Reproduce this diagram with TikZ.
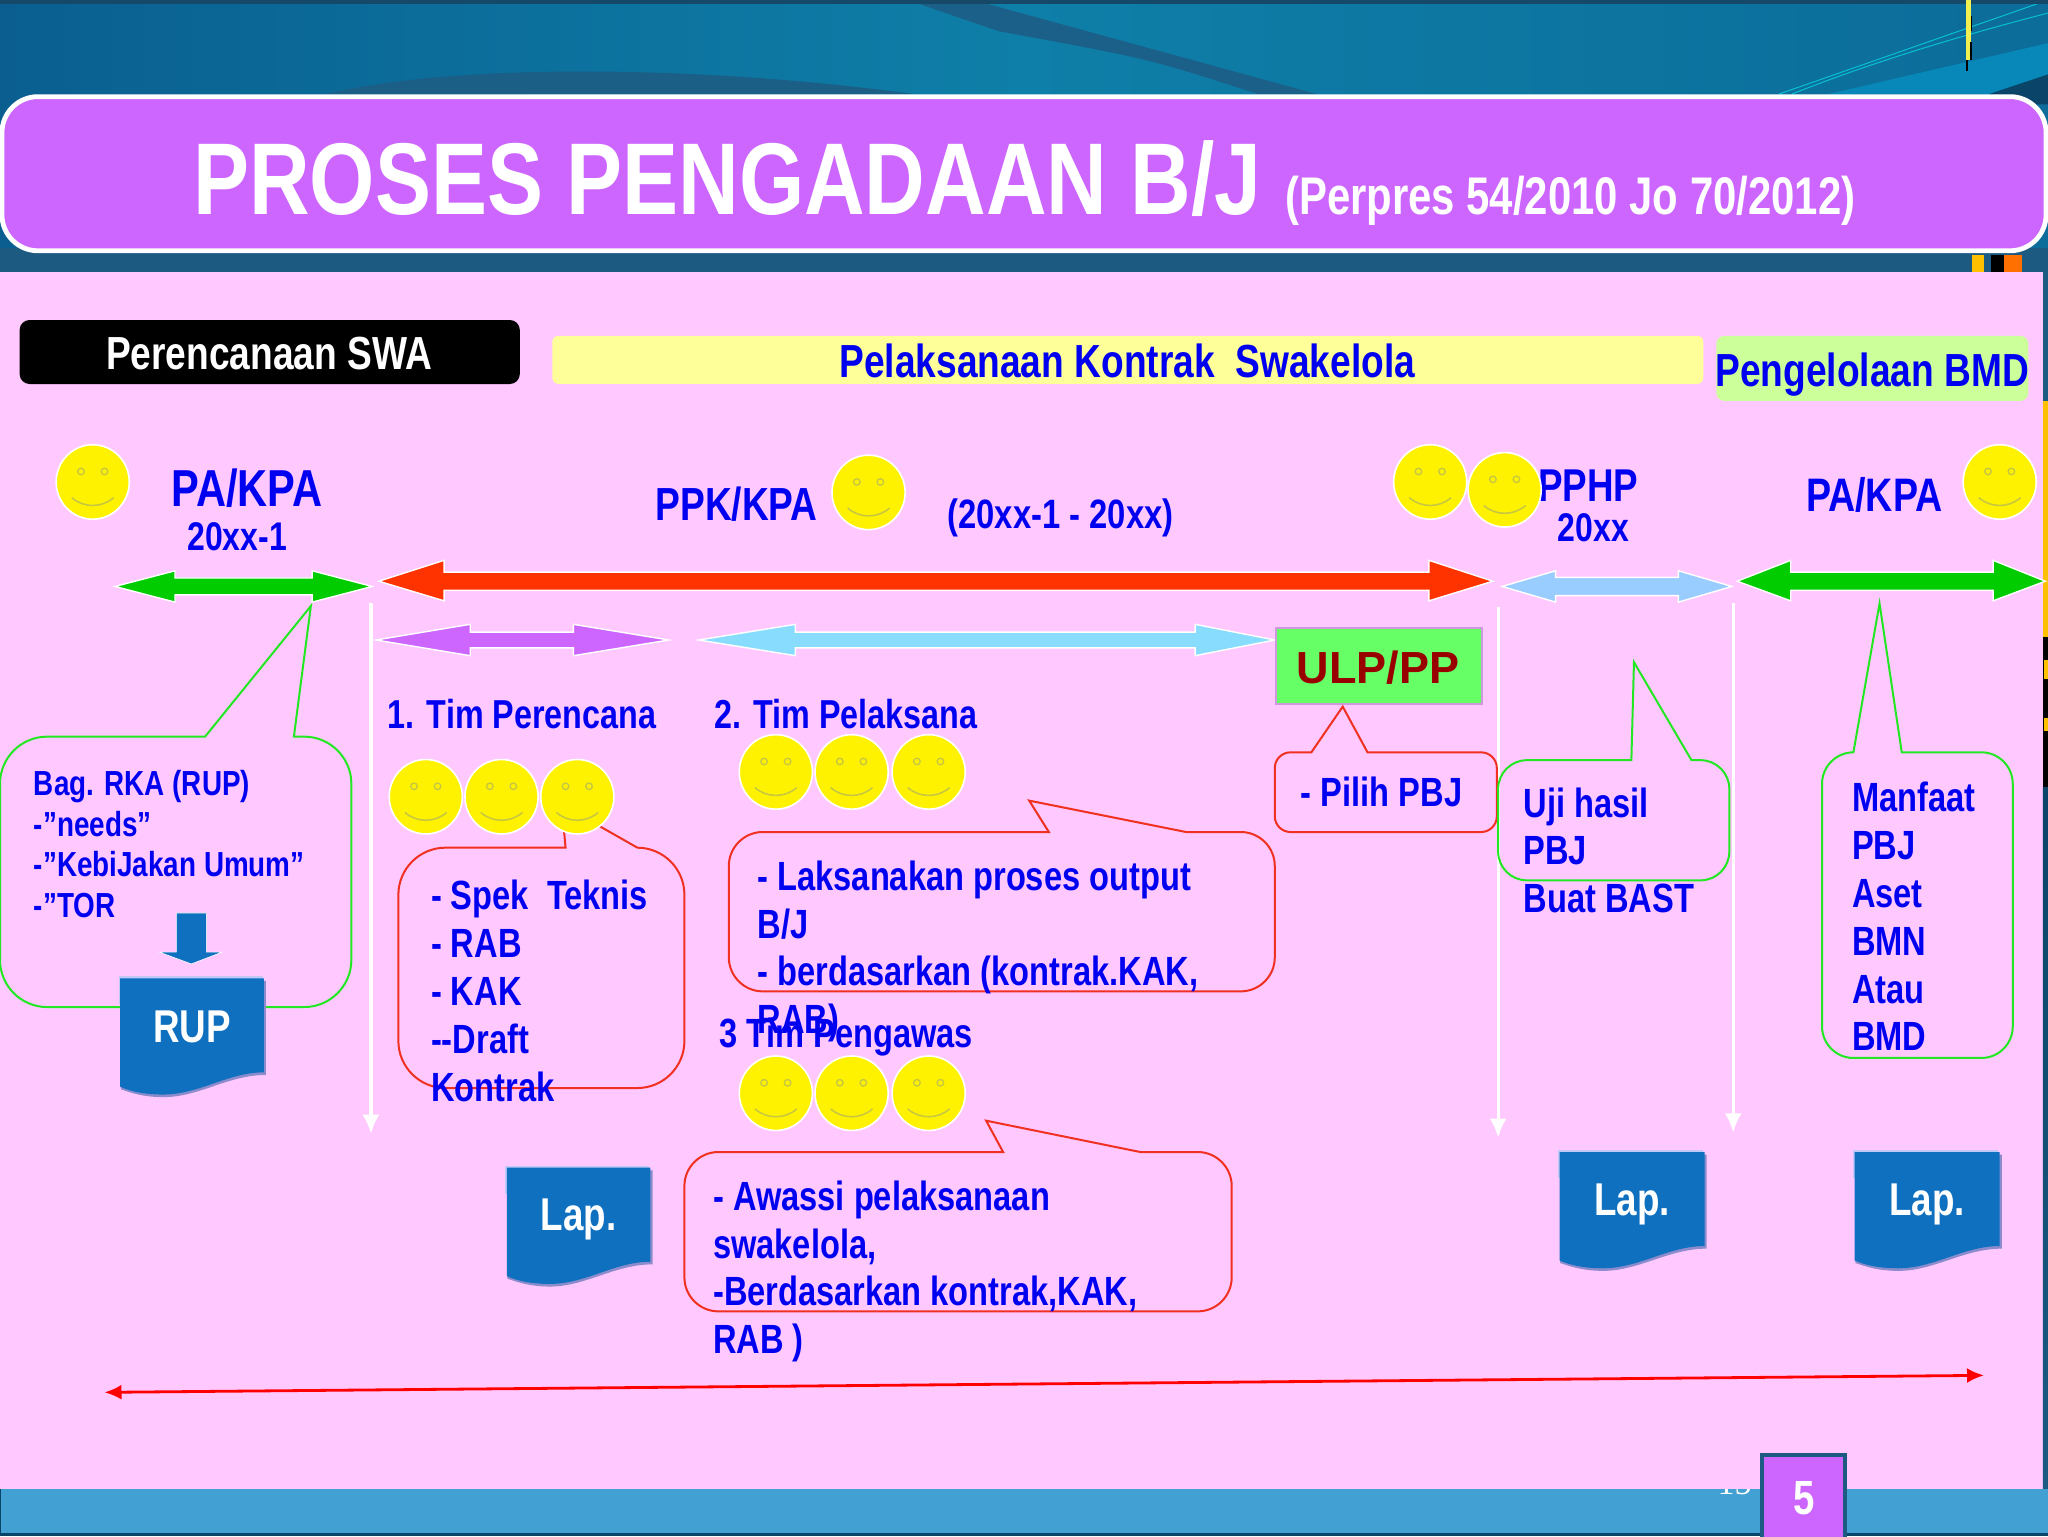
\documentclass[tikz,border=0pt]{standalone}
\usepackage{fontspec}
\setmainfont[FakeStretch=0.8]{Liberation Sans}
\newfontfamily\titlef[FakeStretch=0.823]{Liberation Sans}
\newfontfamily\subf[FakeStretch=0.79]{Liberation Sans}
\newfontfamily\plainf{Liberation Sans}
\newfontfamily\serf{Liberation Serif}
\usetikzlibrary{arrows.meta}
\definecolor{bluetxt}{HTML}{0000F0}
\definecolor{purp}{HTML}{CC66FF}
\definecolor{pinkbg}{HTML}{FFC8FF}
\definecolor{docblue}{HTML}{1070C0}
\definecolor{docshadow}{HTML}{8C8CCC}
\definecolor{dochalo}{HTML}{C0C8F8}
\definecolor{orr}{HTML}{FF3300}
\definecolor{grn}{HTML}{00CC00}
\definecolor{lineG}{HTML}{22E822}
\definecolor{lineR}{HTML}{F03020}
\definecolor{lblue}{HTML}{99CCFF}
\definecolor{cyanb}{HTML}{88DDFF}
\definecolor{smfeat}{HTML}{C8C840}
\definecolor{tealA}{HTML}{0A5F90}
\definecolor{tealB}{HTML}{0E7FA8}
\definecolor{tealC}{HTML}{0888B8}
\definecolor{bandd}{HTML}{1C5A82}
\definecolor{banddk}{HTML}{0A4468}
\definecolor{botband}{HTML}{42A0D2}
\definecolor{hdryel}{HTML}{FFFF99}
\definecolor{hdrgrn}{HTML}{CCFF99}
\definecolor{ulpgrn}{HTML}{66FF66}
\definecolor{ulpedge}{HTML}{CC99DD}
\definecolor{ulptxt}{HTML}{990000}
\definecolor{amber}{HTML}{FFC000}
\definecolor{orng}{HTML}{FF7000}
\definecolor{lemon}{HTML}{F0F050}
\newcommand\fs[2]{\fontsize{#1}{#2}\selectfont\bfseries}
\newcommand\dblarrow[9]{%
 \path[draw=white,line width=.7pt,fill=#9] (#1,#3) -- (#4,{#3-#7}) -- (#4,{#3-#6}) -- (#5,{#3-#6}) -- (#5,{#3-#7}) -- (#2,#3) -- (#5,{#3+#8}) -- (#5,{#3+#6}) -- (#4,{#3+#6}) -- (#4,{#3+#8}) -- cycle;}
\newcommand\callout[9]{\def\cA{#1}\def\cB{#2}\def\cC{#3}\def\cD{#4}\def\cR{#5}\def\cE{#6}\def\cF{#7}\def\cG{#8}\def\cH{#9}\calloutB}
\newcommand\calloutB[1]{%
 \draw[#1,line width=1pt] ({\cA+\cR},\cB) -- (\cE,\cB) -- (\cG,\cH) -- (\cF,\cB) -- ({\cC-\cR},\cB)
  .. controls ({\cC-.45*\cR},\cB) and (\cC,{\cB+.45*\cR}) .. (\cC,{\cB+\cR}) -- (\cC,{\cD-\cR})
  .. controls (\cC,{\cD-.45*\cR}) and ({\cC-.45*\cR},\cD) .. ({\cC-\cR},\cD) -- ({\cA+\cR},\cD)
  .. controls ({\cA+.45*\cR},\cD) and (\cA,{\cD-.45*\cR}) .. (\cA,{\cD-\cR}) -- (\cA,{\cB+\cR})
  .. controls (\cA,{\cB+.45*\cR}) and ({\cA+.45*\cR},\cB) .. ({\cA+\cR},\cB) -- cycle;}
\newcommand\docnode[6]{%
 \fill[dochalo] ({#1-1},{#2-1.5}) rectangle ({#1+#3-1},{#2+20});
 \fill[docshadow] ({#1+1.5},{#2+2}) -- ({#1+#3+1.6},{#2+2}) -- ({#1+#3+1.6},{#2+74}) .. controls ({#1+.75*#3},{#2+74}) and ({#1+.55*#3},{#2+91}) .. ({#1+.3*#3},{#2+91}) .. controls ({#1+.15*#3},{#2+91}) and ({#1+.06*#3},{#2+87}) .. ({#1+.5},{#2+85}) -- cycle;
 \fill[docblue] (#1,#2) -- ({#1+#3},#2) -- ({#1+#3},{#2+72}) .. controls ({#1+.75*#3},{#2+72}) and ({#1+.55*#3},{#2+89}) .. ({#1+.3*#3},{#2+89}) .. controls ({#1+.15*#3},{#2+89}) and ({#1+.06*#3},{#2+86}) .. (#1,{#2+83}) -- cycle;
 \node[doctext] (#4) at ({#1+.5*#3},{#2+#6}) {#5};}
\tikzset{
 x=0.65306pt,y=-0.65306pt,
 every node/.style={inner sep=0pt,outer sep=0pt},
 blue text/.style={text=bluetxt,align=left},
 doctext/.style={text=white,font=\fs{23}{26}},
 whitearrow/.style={draw=white,line width=1.6pt,-{Latex[length=9.5pt,width=8.5pt]}},
 redarrow/.style={draw=red,line width=1.4pt,{Latex[length=8.5pt,width=7.5pt]}-{Latex[length=8.5pt,width=7.5pt]}},
 smiley/.pic={
  \path[fill=yellow,draw=white,line width=.8pt] (0,0) ellipse [x radius=28,y radius=28.5];
  \path[fill=yellow,draw=smfeat,line width=.7pt] (-9,-8) circle [radius=2.5] (9,-8) circle [radius=2.5];
  \draw[smfeat,line width=.8pt] (-16,12) .. controls (-7,20) and (7,20) .. (16,12);
 }
}
\begin{document}
\begin{tikzpicture}
\useasboundingbox (0,0) rectangle (1568,1176);
\clip (0,0) rectangle (1568,1176);
% backdrop
\shade[left color=tealA,right color=tealB] (0,0) rectangle (784,208);
\shade[left color=tealB,right color=tealA!60!tealB] (784,0) rectangle (1568,208);
\fill[tealC] (1400,72) -- (1568,33) -- (1568,57) -- (1523,72) -- cycle;
\fill[banddk] (1523,72) -- (1568,57) -- (1568,80) -- (1523,80) -- cycle;
\fill[bandd!90!tealB] (250,72) .. controls (340,50) and (520,48) .. (700,72) -- cycle;
\fill[bandd!85!tealB] (745,0) -- (1008,72) -- (963,72) .. controls (880,45) .. (765,24) -- (695,0) -- cycle;
\draw[tealB!50!cyan,line width=.5pt] (1362,72) -- (1568,0);
\draw[tealB!50!cyan,line width=.5pt] (1372,72) .. controls (1440,45) and (1510,25) .. (1568,10);
\fill[bandd!80!black] (0,0) rectangle (1568,3);
\fill[bandd] (0,190) rectangle (1568,208);
\fill[lemon] (1505,0) rectangle (1509,46);
\fill[black] (1509,12) rectangle (1510,24);
\fill[black] (1508,32) rectangle (1510,46);
\fill[black] (1505,46) rectangle (1507,54);
\fill[amber] (1510,195) rectangle (1519,208);
\fill[black] (1524,195) rectangle (1534,208);
\fill[orng] (1534,195) rectangle (1548,208);
% footer and main panel
\fill[banddk] (0,1136) rectangle (1568,1176);
\fill[botband] (1,1140) rectangle (1568,1174);
\node[text=white,font=\serf\fontsize{17}{20}\selectfont] (pgsmall) at (1328,1136) {15};
\fill[pinkbg] (0,208) rectangle (1564,1140);
% right edge strip
\fill[bandd] (1564,208) rectangle (1568,307);
\fill[amber] (1564,307) rectangle (1568,488);
\fill[black] (1564,488) rectangle (1568,603);
\fill[amber] (1565,505) rectangle (1568,520);
\fill[amber] (1565,550) rectangle (1568,560);
\shade[top color=banddk,bottom color=bandd] (1564,603) rectangle (1568,1140);
\fill[botband] (1564,1140) rectangle (1568,1174);
% title
\path[draw=white,line width=2.4pt,fill=purp,rounded corners=18pt] (1.5,74) rectangle (1566.5,192);
\node[anchor=base west,text=white,font=\titlef\fs{51}{51}] (title) at (148,164) {PROSES PENGADAAN B/J};
\node[anchor=base west,text=white,font=\subf\fs{26.5}{30}] (subtitle) at (984,164) {(Perpres 54/2010 Jo 70/2012)};
% headers
\node[fill=black,rounded corners=5pt,minimum width=250.1pt,minimum height=32pt] (hdrA) at (206.5,269.5) {};
\node[text=white,font=\fs{23.2}{26}] (hdrAt) at (206,271) {Perencanaan SWA};
\node[fill=hdryel,rounded corners=3pt,minimum width=575.5pt,minimum height=24pt] (hdrB) at (863.5,275.5) {};
\node[blue text,font=\fs{23.2}{26}] (hdrBt) at (863,276.5) {Pelaksanaan Kontrak\ \ Swakelola};
\node[fill=hdrgrn,rounded corners=4pt,minimum width=156pt,minimum height=32.5pt] (hdrC) at (1433.5,282) {};
\node[blue text,font=\fs{23.2}{26}] (hdrCt) at (1433.5,287) {Pengelolaan BMD};
% actor labels
\node[blue text,font=\fs{26}{28}] (pa1) at (189,374) {PA/KPA};
\node[blue text,font=\fs{20}{22}] (y1) at (181.5,411) {20xx-1};
\node[blue text,font=\fs{23.2}{26}] (ppk) at (564,386) {PPK/KPA};
\node[blue text,font=\fs{20.5}{22}] (y2) at (812,396.5) {(20xx-1 - 20xx)};
\node[blue text,font=\fs{23}{26}] (pphp) at (1216,372) {PPHP};
\node[blue text,font=\fs{20}{22}] (y3) at (1220,404) {20xx};
\node[blue text,font=\fs{23.5}{26}] (pa2) at (1435,379) {PA/KPA};
% smileys
\foreach \p in {(71,369),(665,377),(1095,369),(1531,369),(594,591),(652,591),(711,591),(594,837),(652,837),(711,837)}
  \pic at \p {smiley};
\pic at (1152,375) {smiley};
% band arrows
\dblarrow{88}{285}{449}{134}{239}{6.5}{12}{12}{grn}
\dblarrow{290}{1143}{445}{340}{1094}{7}{16}{15}{orr}
\dblarrow{1150}{1326}{449}{1191}{1285}{7}{12}{12}{lblue}
\dblarrow{1330}{1566}{445}{1371}{1526}{7}{16}{15}{grn}
\dblarrow{288}{512}{490}{360}{439}{6}{12}{12}{purp}
\dblarrow{535}{976}{490}{609}{915}{6}{12}{12}{cyanb}
% vertical white arrows
\coordinate (v1a) at (284,462); \coordinate (v1b) at (284,868);
\coordinate (v2a) at (1147,465); \coordinate (v2b) at (1147,871);
\coordinate (v3a) at (1327,462); \coordinate (v3b) at (1327,867);
\draw[whitearrow] (v1a) -- (v1b);
\draw[whitearrow] (v2a) -- (v2b);
\draw[whitearrow] (v3a) -- (v3b);
% ULP/PP
\node[fill=ulpgrn,draw=ulpedge,line width=.8pt,minimum width=103pt,minimum height=38pt] (ulp) at (1056,510) {};
\node[text=ulptxt,font=\plainf\fs{22.5}{26}] (ulpt) at (1055,511) {ULP/PP};
% callouts
\callout{0}{564}{269}{771}{36}{157}{225}{238}{464}{lineG}
\callout{305}{649}{524}{833}{36}{433}{488}{430}{616}{lineR}
\callout{558}{637}{976}{759}{26}{803}{908}{788}{613}{lineR}
\callout{524}{882}{943}{1004}{26}{768}{873}{755}{858}{lineR}
\callout{976}{576}{1146}{637}{12}{1004}{1047}{1028}{541}{lineR}
\callout{1147}{582}{1324}{674}{22}{1249}{1295}{1251}{507}{lineG}
\callout{1395}{576}{1541}{810}{24}{1419}{1456}{1439}{462}{lineG}
\foreach \p in {(326,610),(384,610),(442,610)} \pic at \p {smiley};
% column headings
\node[blue text,font=\fs{20.2}{24},anchor=west] (t1) at (297,547) {1. Tim Perencana};
\node[blue text,font=\fs{20.2}{24},anchor=west] (t2) at (547,547) {2. Tim Pelaksana};
% callout texts
\node[blue text,font=\fs{17.4}{20.2},anchor=north west] (ta) at (26,590) {Bag. RKA (RUP)\\-”needs”\\-”KebiJakan Umum”\\-”TOR};
\node[blue text,font=\fs{20.4}{23.9},anchor=north west] (tb) at (330,674) {- Spek\ \ Teknis\\- RAB\\- KAK\\-{}-Draft\\Kontrak};
\node[blue text,font=\fs{20.4}{23.9},anchor=north west] (tc) at (580,659) {- Laksanakan proses output\\B/J\\- berdasarkan (kontrak.KAK,\\RAB)};
\node[blue text,font=\fs{20.4}{24},anchor=west] (t3) at (551,794) {3 Tim Pengawas};
\node[blue text,font=\fs{20.4}{23.9},anchor=north west] (td) at (546,904) {- Awassi pelaksanaan\\swakelola,\\-Berdasarkan kontrak,KAK,\\RAB )};
\node[blue text,font=\fs{20.4}{24},anchor=west] (te) at (996,606) {- Pilih PBJ};
\node[blue text,font=\fs{20.4}{23.9},anchor=north west] (tf) at (1166.5,603) {Uji hasil\\PBJ\\Buat BAST};
\node[blue text,font=\fs{20.4}{23.9},anchor=north west] (tg) at (1418,599) {Manfaat\\PBJ\\Aset\\BMN\\Atau\\BMD};
% small blue arrow
\path[fill=docblue,draw=white,line width=.3pt] (135,699) -- (158,699) -- (158,729) -- (170,729) -- (146.5,738) -- (122,729) -- (135,729) -- cycle;
% documents
\docnode{92}{749}{110}{rup}{RUP}{37}
\docnode{388}{894}{110}{lap1}{Lap.}{40}
\docnode{1194}{882}{111}{lap2}{Lap.}{40}
\docnode{1420}{882}{111}{lap3}{Lap.}{40}
% bottom arrow
\coordinate (ba) at (80,1066); \coordinate (bb) at (1519,1053);
\draw[redarrow] (ba) -- (bb);
% page number
\node[fill=purp,draw=bandd,line width=2.2pt,minimum width=41.5pt,minimum height=42pt] (pgbox) at (1381,1146) {};
\node[text=white,font=\fs{24}{28}] (pgnum) at (1381,1147) {5};
\end{tikzpicture}
\end{document}
